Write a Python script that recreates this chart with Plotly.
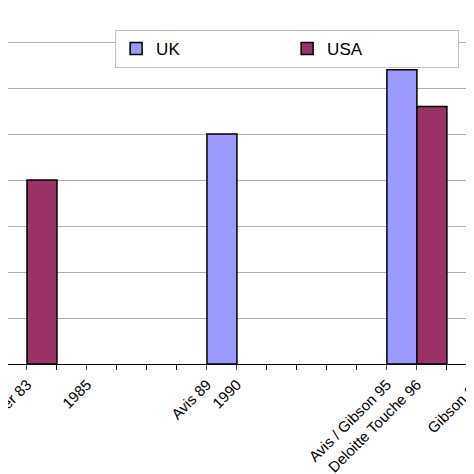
import plotly.graph_objects as go

# slot index for each study, tick labels under slot left edges
tick_pos = [0, 2, 6, 7, 12, 13, 15]
tick_text = ["Fraser 83", "1985", "Avis 89", "1990", "Avis / Gibson 95", "Deloitte Touche 96", "Gibson 98"]

uk_slots = [6, 12]
uk_values = [5.0, 6.4]
usa_slots = [0, 13]
usa_values = [4.0, 5.6]

fig = go.Figure()
fig.add_trace(go.Bar(x=[s + 0.5 for s in uk_slots], y=uk_values, width=1, name="UK",
                     marker=dict(color="#9999FF", line=dict(color="black", width=1.5))))
fig.add_trace(go.Bar(x=[s + 0.5 for s in usa_slots], y=usa_values, width=1, name="USA",
                     marker=dict(color="#993366", line=dict(color="black", width=1.5))))

fig.update_layout(
    width=474, height=474,
    margin=dict(l=0, r=0, t=0, b=118, autoexpand=False),
    plot_bgcolor="white", paper_bgcolor="white",
    font=dict(family="Liberation Sans, Arial", size=15, color="black"),
    legend=dict(orientation="h", x=0.226, y=0.938, xanchor="left", yanchor="top",
                bgcolor="white", bordercolor="#c0c0c0", borderwidth=1,
                font=dict(size=17), entrywidth=126, itemwidth=30),
    showlegend=True,
)
fig.update_xaxes(range=[-0.633, 15.17], tickmode="array", tickvals=tick_pos, ticktext=tick_text,
                 tickangle=-45, showgrid=False, showline=True, linecolor="black",
                 ticks="outside", ticklen=5, zeroline=False, automargin=False,
                 ticklabeloverflow="allow",
                 minor=dict(tickmode="linear", tick0=0, dtick=1, ticks="outside", ticklen=5,
                            tickcolor="black", showgrid=False))
fig.update_yaxes(range=[0, 7.74], dtick=1, showticklabels=False, showgrid=True,
                 gridcolor="#b0b0b0", zeroline=False, showline=False, automargin=False)

fig.write_html("out.html")
